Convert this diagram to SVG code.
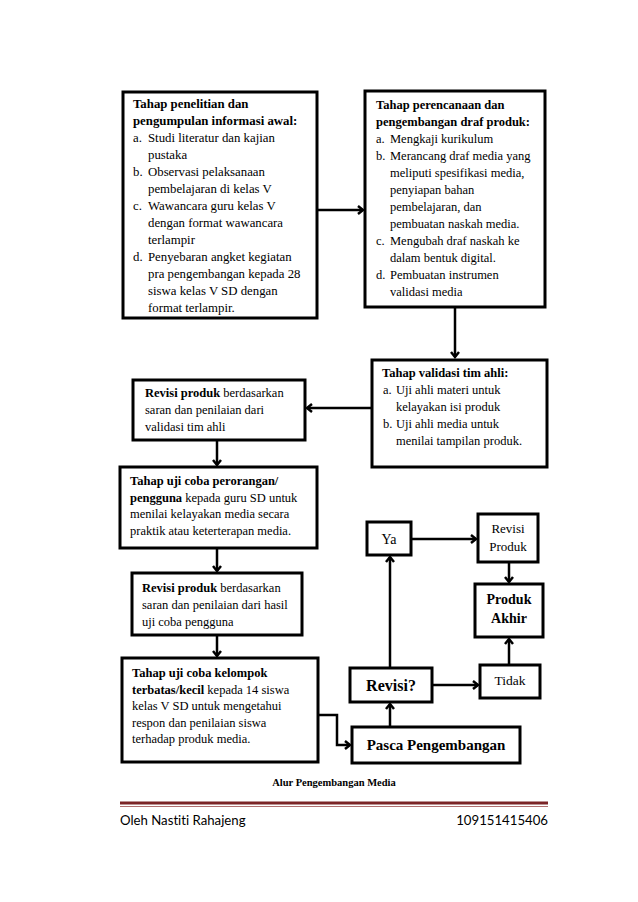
<svg xmlns="http://www.w3.org/2000/svg" width="638" height="902" viewBox="0 0 638 902">
<style>
.box{fill:#fff;stroke:#000;stroke-width:3}
.t{font-family:"Liberation Serif","Times New Roman",serif;font-size:12.5px;fill:#000}
.b{font-weight:bold}
.c{text-anchor:middle}
.con{fill:none;stroke:#000;stroke-width:2.5}
.foot{font-family:Lato,"Open Sans",sans-serif;font-size:13.2px;fill:#000;font-variant-ligatures:none}
</style>
<defs>
<marker id="ah" markerWidth="10" markerHeight="10" refX="7" refY="5" orient="auto" markerUnits="userSpaceOnUse">
<path d="M2,1 L7,5 L2,9" fill="none" stroke="#000" stroke-width="2.5"/>
</marker>
</defs>
<rect width="638" height="902" fill="#fff"/>
<g id="connectors">
<line class="con" x1="318" y1="210" x2="363" y2="210" marker-end="url(#ah)"/>
<line class="con" x1="455" y1="307" x2="455" y2="357" marker-end="url(#ah)"/>
<line class="con" x1="372" y1="408" x2="307" y2="408" marker-end="url(#ah)"/>
<line class="con" x1="217" y1="440" x2="217" y2="465" marker-end="url(#ah)"/>
<line class="con" x1="217" y1="548" x2="217" y2="571" marker-end="url(#ah)"/>
<line class="con" x1="217" y1="635" x2="217" y2="656" marker-end="url(#ah)"/>
<polyline class="con" points="318,715 337,715 337,745 350,745" marker-end="url(#ah)"/>
<line class="con" x1="390" y1="727" x2="390" y2="704" marker-end="url(#ah)"/>
<line class="con" x1="390" y1="668" x2="390" y2="557" marker-end="url(#ah)"/>
<line class="con" x1="411" y1="539" x2="476" y2="539" marker-end="url(#ah)"/>
<line class="con" x1="509" y1="562" x2="509" y2="582" marker-end="url(#ah)"/>
<line class="con" x1="432" y1="685" x2="478" y2="685" marker-end="url(#ah)"/>
<line class="con" x1="509" y1="665" x2="509" y2="639" marker-end="url(#ah)"/>
</g>
<g id="n1">
<rect class="box" x="123" y="92" width="194" height="226"/>
<text class="t" style="font-size:12.8px"><tspan class="b" x="133" y="108">Tahap penelitian dan</tspan><tspan class="b" x="133" y="125">pengumpulan informasi awal:</tspan><tspan x="133" y="142">a.</tspan><tspan x="148" y="142">Studi literatur dan kajian</tspan><tspan x="148" y="159">pustaka</tspan><tspan x="133" y="176">b.</tspan><tspan x="148" y="176">Observasi pelaksanaan</tspan><tspan x="148" y="193">pembelajaran di kelas V</tspan><tspan x="133" y="210">c.</tspan><tspan x="148" y="210">Wawancara guru kelas V</tspan><tspan x="148" y="227">dengan format wawancara</tspan><tspan x="148" y="244">terlampir</tspan><tspan x="133" y="261">d.</tspan><tspan x="148" y="261">Penyebaran angket kegiatan</tspan><tspan x="148" y="278">pra pengembangan kepada 28</tspan><tspan x="148" y="295">siswa kelas V SD dengan</tspan><tspan x="148" y="312">format terlampir.</tspan></text>
</g>
<g id="n2">
<rect class="box" x="365" y="91" width="180" height="216"/>
<text class="t"><tspan class="b" x="376" y="109">Tahap perencanaan dan</tspan><tspan class="b" x="376" y="126">pengembangan draf produk:</tspan><tspan x="376" y="143">a.</tspan><tspan x="390" y="143">Mengkaji kurikulum</tspan><tspan x="376" y="160">b.</tspan><tspan x="390" y="160">Merancang draf media yang</tspan><tspan x="390" y="177">meliputi spesifikasi media,</tspan><tspan x="390" y="194">penyiapan bahan</tspan><tspan x="390" y="211">pembelajaran, dan</tspan><tspan x="390" y="228">pembuatan naskah media.</tspan><tspan x="376" y="245">c.</tspan><tspan x="390" y="245">Mengubah draf naskah ke</tspan><tspan x="390" y="262">dalam bentuk digital.</tspan><tspan x="376" y="279">d.</tspan><tspan x="390" y="279">Pembuatan instrumen</tspan><tspan x="390" y="296">validasi media</tspan></text>
</g>
<g id="n3">
<rect class="box" x="372" y="360" width="175" height="107"/>
<text class="t"><tspan class="b" x="382" y="377">Tahap validasi tim ahli:</tspan><tspan x="383" y="394">a.</tspan><tspan x="396" y="394">Uji ahli materi untuk</tspan><tspan x="396" y="411">kelayakan isi produk</tspan><tspan x="383" y="428">b.</tspan><tspan x="396" y="428">Uji ahli media untuk</tspan><tspan x="396" y="445">menilai tampilan produk.</tspan></text>
</g>
<g id="n4">
<rect class="box" x="133" y="380" width="172" height="60"/>
<text class="t"><tspan x="145" y="397"><tspan class="b">Revisi produk</tspan> berdasarkan</tspan><tspan x="145" y="414">saran dan penilaian dari</tspan><tspan x="145" y="431">validasi tim ahli</tspan></text>
</g>
<g id="n5">
<rect class="box" x="120" y="467" width="197" height="81"/>
<text class="t"><tspan class="b" x="130" y="485">Tahap uji coba perorangan/</tspan><tspan x="130" y="502"><tspan class="b">pengguna</tspan> kepada guru  SD untuk</tspan><tspan x="130" y="518">menilai kelayakan media secara</tspan><tspan x="130" y="535">praktik atau keterterapan media.</tspan></text>
</g>
<g id="n6">
<rect class="box" x="132" y="573" width="170" height="62"/>
<text class="t"><tspan x="142" y="592"><tspan class="b">Revisi produk</tspan> berdasarkan</tspan><tspan x="142" y="609">saran dan penilaian dari hasil</tspan><tspan x="142" y="626">uji coba pengguna</tspan></text>
</g>
<g id="n7">
<rect class="box" x="122" y="658" width="196" height="104"/>
<text class="t"><tspan class="b" x="132" y="677">Tahap uji coba kelompok</tspan><tspan x="132" y="694"><tspan class="b">terbatas/kecil</tspan> kepada 14 siswa</tspan><tspan x="132" y="710">kelas V SD untuk mengetahui</tspan><tspan x="132" y="727">respon dan penilaian siswa</tspan><tspan x="132" y="743">terhadap produk media.</tspan></text>
</g>
<g id="n8">
<rect class="box" x="352" y="727" width="168" height="36"/>
<text class="t b c" x="436" y="750" style="font-size:15px">Pasca Pengembangan</text>
</g>
<g id="n9">
<rect class="box" x="350" y="668" width="82" height="34"/>
<text class="t b c" x="391" y="691" style="font-size:16px">Revisi?</text>
</g>
<g id="n10">
<rect class="box" x="367" y="522" width="44" height="33"/>
<text class="t c" x="389" y="544" style="font-size:14px">Ya</text>
</g>
<g id="n11">
<rect class="box" x="478" y="514" width="60" height="48"/>
<text class="t c" style="font-size:13px"><tspan x="508" y="533">Revisi</tspan><tspan x="508" y="551">Produk</tspan></text>
</g>
<g id="n12">
<rect class="box" x="475" y="584" width="68" height="53"/>
<text class="t b c" style="font-size:14px"><tspan x="509" y="604">Produk</tspan><tspan x="509" y="623">Akhir</tspan></text>
</g>
<g id="n13">
<rect class="box" x="480" y="665" width="60" height="33"/>
<text class="t c" x="510" y="685" style="font-size:13.5px">Tidak</text>
</g>
<text class="t b c" x="334" y="786" style="font-size:10.5px">Alur Pengembangan Media</text>
<line x1="120" y1="803" x2="548" y2="803" stroke="#7a2426" stroke-width="3"/>
<line x1="120" y1="806.5" x2="548" y2="806.5" stroke="#b07070" stroke-width="1"/>
<text class="foot" x="120" y="825">Oleh Nastiti Rahajeng</text>
<text class="foot" x="548" y="825" text-anchor="end">109151415406</text>
</svg>
